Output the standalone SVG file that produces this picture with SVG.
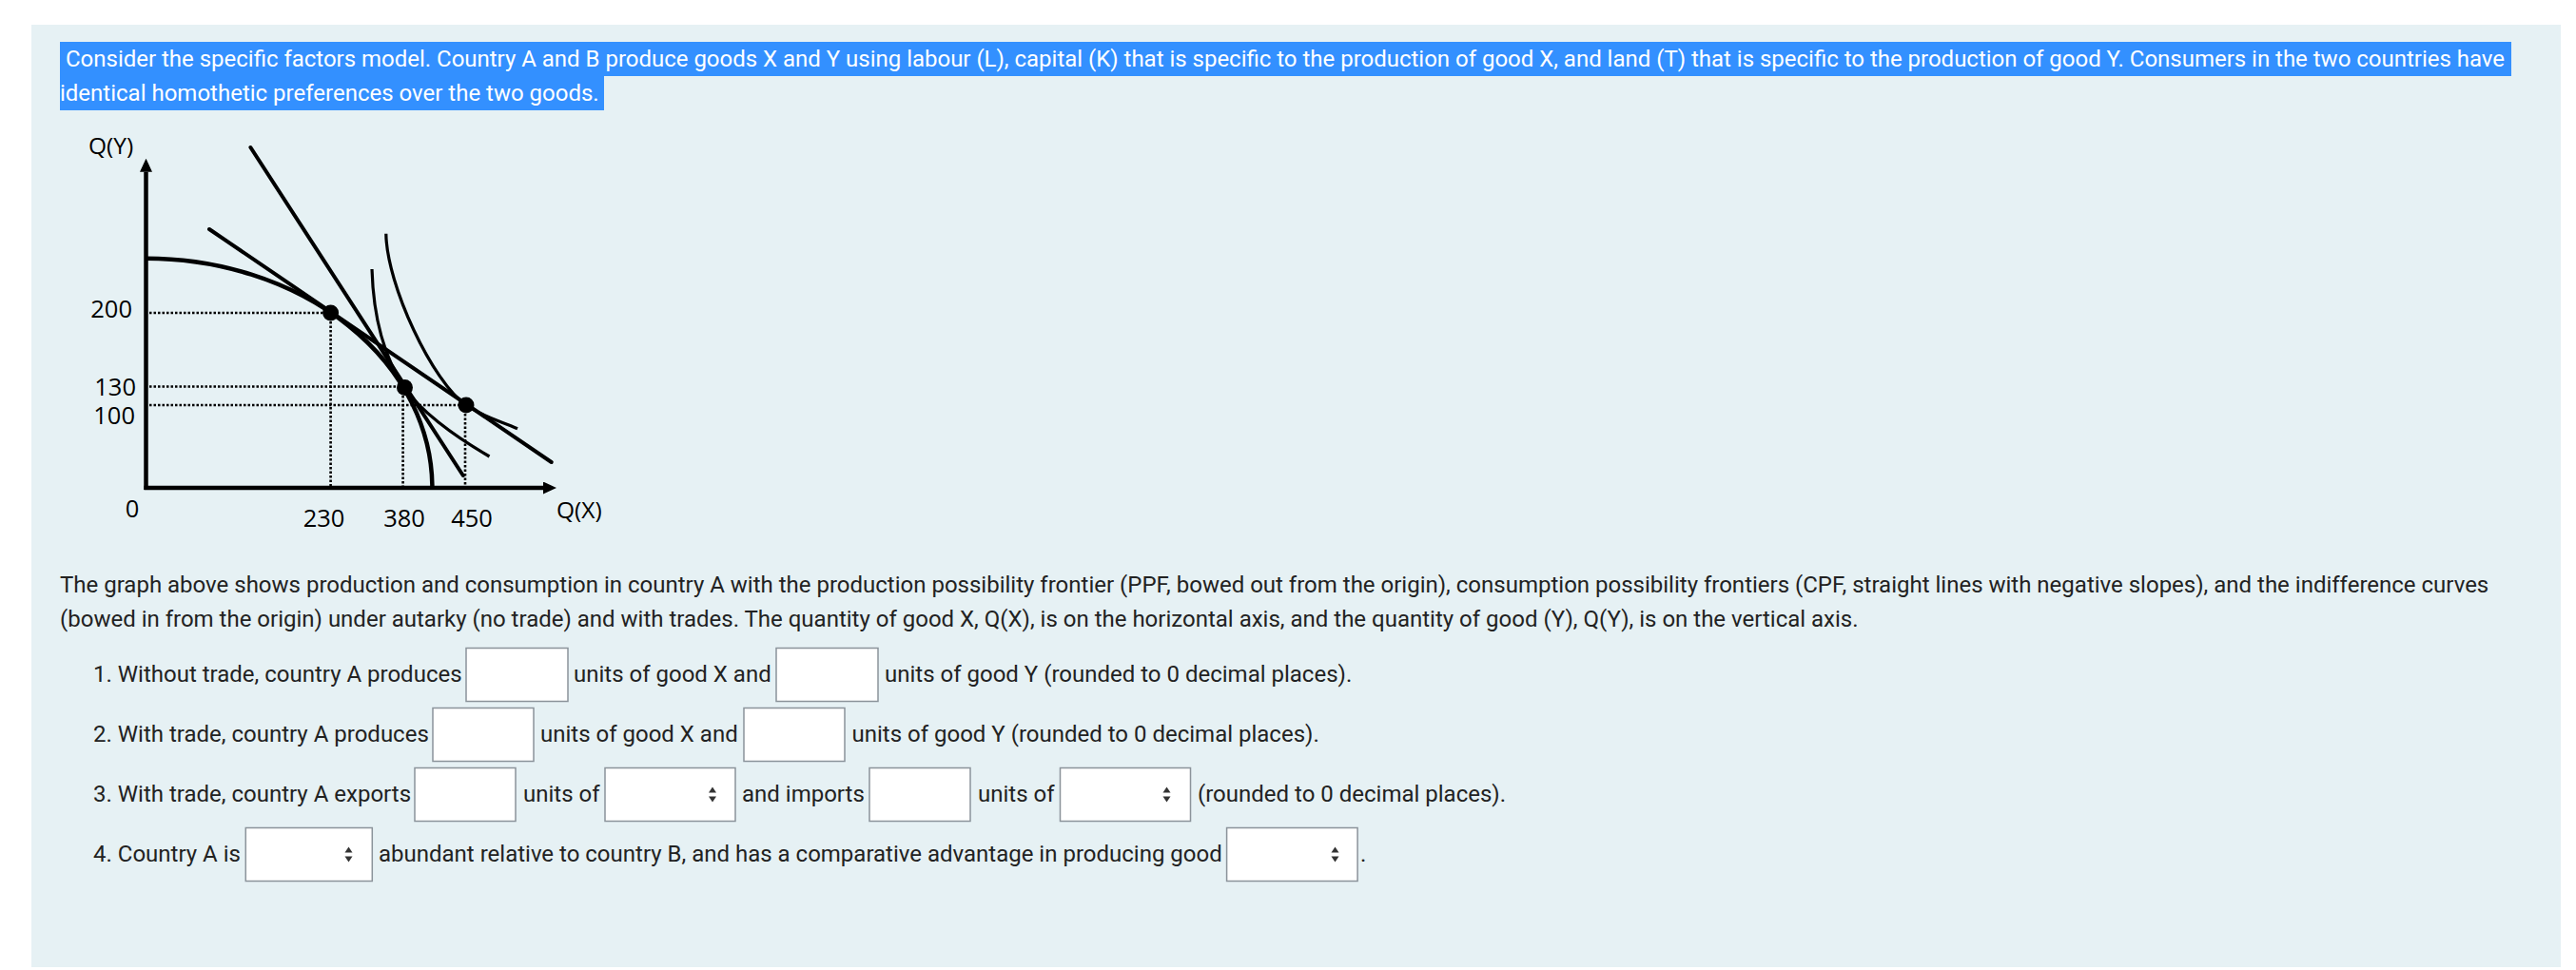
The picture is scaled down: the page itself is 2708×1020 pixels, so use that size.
<svg xmlns="http://www.w3.org/2000/svg" width="2708" height="1020" viewBox="0 0 2708 1020">
<style>
.t{font-family:Roboto,"Noto Sans",sans-serif;font-size:24px;fill:#222}
.hl{font-family:Roboto,"Noto Sans",sans-serif;font-size:24px;fill:#fff}
.g{font-family:"Open Sans","Noto Sans",sans-serif;font-size:24.5px;fill:#000}
.n{font-size:25.5px}
.ax{stroke:#000;stroke-width:4.5;fill:none}
.ppf{stroke:#000;stroke-width:4.5;fill:none}
.cpf{stroke:#000;stroke-width:4;fill:none;stroke-linecap:round}
.ic{stroke:#000;stroke-width:3.2;fill:none}
.dot{stroke:#000;stroke-width:2.6;stroke-dasharray:2.5 2;fill:none}
.box{fill:#fff;stroke:#8b939a;stroke-width:1.5}
.arr{fill:#333}
</style>
<defs>
<marker id="ah" markerUnits="userSpaceOnUse" markerWidth="14" markerHeight="13" refX="0" refY="6.5" orient="auto">
<path d="M0,0 L14,6.5 L0,13 z" fill="#000"/>
</marker>
<g id="sel-arrows">
<polygon points="-4,-2 4,-2 0,-8"/>
<polygon points="-4,2 4,2 0,8"/>
</g>
</defs>
<rect x="0" y="0" width="2708" height="1020" fill="#fff"/>
<rect id="panel" x="33" y="26" width="2659" height="991" fill="#e6f1f4"/>

<g id="intro">
<rect x="63" y="44" width="2577" height="36" fill="#3390ff"/>
<rect x="63" y="80" width="572" height="36" fill="#3390ff"/>
<text class="hl" x="69" y="70" textLength="2564">Consider the specific factors model. Country A and B produce goods X and Y using labour (L), capital (K) that is specific to the production of good X, and land (T) that is specific to the production of good Y. Consumers in the two countries have</text>
<text class="hl" x="63" y="106">identical homothetic preferences over the two goods.</text>
</g>

<g id="graph">
<g id="axes">
<line class="ax" x1="153.5" y1="515" x2="153.5" y2="180.7" marker-end="url(#ah)"/>
<line class="ax" x1="151.5" y1="513" x2="571" y2="513" marker-end="url(#ah)"/>
</g>
<g id="guides">
<line class="dot" x1="157" y1="329" x2="347.6" y2="329"/>
<line class="dot" x1="157" y1="406.5" x2="424" y2="406.5"/>
<line class="dot" x1="157" y1="426" x2="490" y2="426"/>
<line class="dot" x1="347.6" y1="329" x2="347.6" y2="511"/>
<line class="dot" x1="423.6" y1="407" x2="423.6" y2="511"/>
<line class="dot" x1="489" y1="426" x2="489" y2="511"/>
</g>
<g id="curves">
<path id="ppf" class="ppf" d="M153.5,271.7 A300.9,241.3 0 0 1 454.4,513"/>
<line id="cpf-trade" class="cpf" x1="220" y1="241" x2="579.7" y2="486"/>
<line id="cpf-autarky" class="cpf" x1="263.4" y1="155" x2="486.8" y2="500"/>
<path id="ic-autarky" class="ic" d="M391,283 C393,350 412,388 425.5,407.7 C440.5,430.7 474.5,457 514.5,480"/>
<path id="ic-trade" class="ic" d="M405.8,245.7 C406.5,300 455,402.2 490,426 C508,438.3 526,442.7 544,450.7"/>
</g>
<g id="points">
<circle cx="347.6" cy="329" r="8.5"/>
<circle cx="425.5" cy="407.5" r="8.5"/>
<circle cx="490" cy="426" r="8.5"/>
</g>
<g id="graph-labels">
<text class="g" x="93" y="162">Q(Y)</text>
<text class="g n" x="139" y="334" text-anchor="end">200</text>
<text class="g n" x="143" y="415.7" text-anchor="end">130</text>
<text class="g n" x="142" y="446" text-anchor="end">100</text>
<text class="g n" x="139" y="544" text-anchor="middle">0</text>
<text class="g n" x="340.5" y="554" text-anchor="middle">230</text>
<text class="g n" x="425" y="554" text-anchor="middle">380</text>
<text class="g n" x="496" y="554" text-anchor="middle">450</text>
<text class="g" x="585" y="545">Q(X)</text>
</g>
</g>

<g id="description">
<text class="t" x="63" y="623.3">The graph above shows production and consumption in country A with the production possibility frontier (PPF, bowed out from the origin), consumption possibility frontiers (CPF, straight lines with negative slopes), and the indifference curves</text>
<text class="t" x="63" y="659.3">(bowed in from the origin) under autarky (no trade) and with trades. The quantity of good X, Q(X), is on the horizontal axis, and the quantity of good (Y), Q(Y), is on the vertical axis.</text>
</g>

<g id="q1">
<text class="t" x="98" y="717.3">1. Without trade, country A produces</text>
<rect class="box" x="490" y="681.5" width="107" height="56"/>
<text class="t" x="603" y="717.3">units of good X and</text>
<rect class="box" x="816" y="681.5" width="107" height="56"/>
<text class="t" x="930" y="717.3">units of good Y (rounded to 0 decimal places).</text>
</g>

<g id="q2">
<text class="t" x="98" y="780.3">2. With trade, country A produces</text>
<rect class="box" x="455" y="744.5" width="106" height="56"/>
<text class="t" x="568" y="780.3">units of good X and</text>
<rect class="box" x="782" y="744.5" width="106" height="56"/>
<text class="t" x="895.5" y="780.3">units of good Y (rounded to 0 decimal places).</text>
</g>

<g id="q3">
<text class="t" x="98" y="843.3">3. With trade, country A exports</text>
<rect class="box" x="436" y="807.5" width="106" height="56"/>
<text class="t" x="550" y="843.3">units of</text>
<rect class="box" x="636" y="807.5" width="137" height="56"/>
<use href="#sel-arrows" class="arr" x="749" y="835.5"/>
<text class="t" x="780" y="843.3">and imports</text>
<rect class="box" x="914" y="807.5" width="106" height="56"/>
<text class="t" x="1028" y="843.3">units of</text>
<rect class="box" x="1114.5" y="807.5" width="137" height="56"/>
<use href="#sel-arrows" class="arr" x="1226.5" y="835.5"/>
<text class="t" x="1259" y="843.3">(rounded to 0 decimal places).</text>
</g>

<g id="q4">
<text class="t" x="98" y="906.3">4. Country A is</text>
<rect class="box" x="258.3" y="870.5" width="133" height="56"/>
<use href="#sel-arrows" class="arr" x="366.5" y="898.5"/>
<text class="t" x="398" y="906.3">abundant relative to country B, and has a comparative advantage in producing good</text>
<rect class="box" x="1289.6" y="870.5" width="137.5" height="56"/>
<use href="#sel-arrows" class="arr" x="1403.5" y="898.5"/>
<text class="t" x="1430" y="906.3">.</text>
</g>
</svg>
